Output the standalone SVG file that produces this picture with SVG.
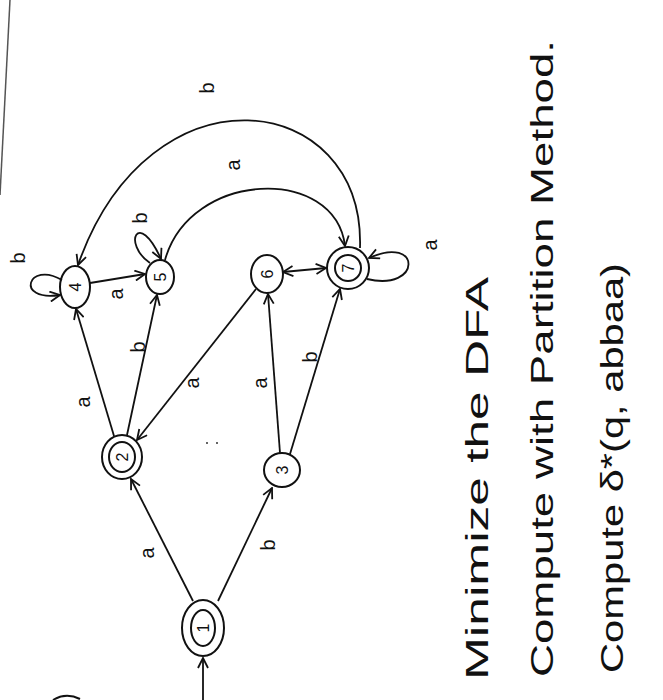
<svg xmlns="http://www.w3.org/2000/svg" width="663" height="700" viewBox="0 0 663 700">
<style>
.bg{fill:#ffffff}
.node{fill:none;stroke:#111;stroke-width:2}
.edge{fill:none;stroke:#111;stroke-width:1.8}
.lbl{font-family:"Liberation Sans",Arial,sans-serif;font-size:20px;fill:#111;text-anchor:middle;dominant-baseline:central}
.nl{font-family:"Liberation Sans",Arial,sans-serif;font-size:16px;fill:#111;text-anchor:middle;dominant-baseline:central}
.txt{font-family:"Liberation Sans",Arial,sans-serif;font-size:32px;fill:#111}
</style>
<defs>
<marker id="arr" viewBox="0 0 12 12" refX="11" refY="6" markerWidth="12" markerHeight="12" markerUnits="userSpaceOnUse" orient="auto-start-reverse">
<path d="M1,1 L11,6 L1,11" fill="none" stroke="#111" stroke-width="1.8"/>
</marker>
</defs>
<rect class="bg" x="0" y="0" width="663" height="700"/>
<line x1="10" y1="0" x2="0" y2="195" stroke="#555" stroke-width="1.5"/>
<path d="M53,700 Q66,692 80,699" fill="none" stroke="#111" stroke-width="2"/>
<circle cx="207" cy="443" r="1" fill="#333"/>
<circle cx="217" cy="443" r="1" fill="#333"/>

<g id="connectors">
<path class="edge" d="M203,700 L203,658" marker-end="url(#arr)"/>
<path class="edge" d="M193,601 L131,479" marker-end="url(#arr)"/>
<path class="edge" d="M218,601 L272,488" marker-end="url(#arr)"/>
<path class="edge" d="M114,436 L76,309" marker-end="url(#arr)"/>
<path class="edge" d="M127,435 L157,295" marker-end="url(#arr)"/>
<path class="edge" d="M256,289 L137,440" marker-end="url(#arr)"/>
<path class="edge" d="M280,453 L268,294" marker-end="url(#arr)"/>
<path class="edge" d="M290,454 L340,289" marker-end="url(#arr)"/>
<path class="edge" d="M90,283 L145,274" marker-end="url(#arr)"/>
<path class="edge" d="M283,272 L326,268" marker-start="url(#arr)" marker-end="url(#arr)"/>
<path class="edge" d="M360,248 C365,90 150,60 78,265" marker-end="url(#arr)"/>
<path class="edge" d="M165,260 C190,170 335,165 345,246" marker-end="url(#arr)"/>
<path class="edge" d="M62,280 C28,260 14,302 60,295" marker-end="url(#arr)"/>
<path class="edge" d="M150,263 C122,244 138,208 161,259" marker-end="url(#arr)"/>
<path class="edge" d="M367,279 C422,292 422,234 369,258" marker-end="url(#arr)"/>
<text class="lbl" transform="translate(207,88) rotate(-90)">b</text>
<text class="lbl" transform="translate(233,165) rotate(-90)">a</text>
<text class="lbl" transform="translate(140,218) rotate(-90)">b</text>
<text class="lbl" transform="translate(18,258) rotate(-90)">b</text>
<text class="lbl" transform="translate(430,245) rotate(-90)">a</text>
<text class="lbl" transform="translate(116,294) rotate(-90)">a</text>
<text class="lbl" transform="translate(138,347) rotate(-90)">b</text>
<text class="lbl" transform="translate(83,402) rotate(-90)">a</text>
<text class="lbl" transform="translate(192,383) rotate(-90)">a</text>
<text class="lbl" transform="translate(260,383) rotate(-90)">a</text>
<text class="lbl" transform="translate(310,357) rotate(-90)">b</text>
<text class="lbl" transform="translate(147,553) rotate(-90)">a</text>
<text class="lbl" transform="translate(268,545) rotate(-90)">b</text>
</g>

<g id="node1">
<ellipse class="node" cx="203" cy="628" rx="21" ry="28"/>
<ellipse class="node" cx="203" cy="628" rx="12" ry="18"/>
<text class="nl" transform="translate(203,628) rotate(-90)">1</text>
</g>
<g id="node2">
<ellipse class="node" cx="122" cy="457" rx="20" ry="22"/>
<ellipse class="node" cx="122" cy="457" rx="13" ry="15"/>
<text class="nl" transform="translate(122,457) rotate(-90)">2</text>
</g>
<g id="node3">
<ellipse class="node" cx="282" cy="470" rx="18" ry="17"/>
<text class="nl" transform="translate(282,470) rotate(-90)">3</text>
</g>
<g id="node4">
<ellipse class="node" cx="75" cy="287" rx="15" ry="21"/>
<text class="nl" transform="translate(75,287) rotate(-90)">4</text>
</g>
<g id="node5">
<ellipse class="node" cx="160" cy="277" rx="14" ry="17"/>
<text class="nl" transform="translate(160,277) rotate(-90)">5</text>
</g>
<g id="node6">
<ellipse class="node" cx="267" cy="274" rx="16" ry="19"/>
<text class="nl" transform="translate(267,274) rotate(-90)">6</text>
</g>
<g id="node7">
<circle class="node" cx="348" cy="268" r="21"/>
<circle class="node" cx="348" cy="268" r="13"/>
<text class="nl" transform="translate(348,268) rotate(-90)">7</text>
</g>

<g id="task">
<text class="txt" transform="translate(488,680) rotate(-90)" textLength="403" lengthAdjust="spacingAndGlyphs">Minimize the DFA</text>
<text class="txt" transform="translate(553,677) rotate(-90)" textLength="637" lengthAdjust="spacingAndGlyphs">Compute with Partition Method.</text>
<text class="txt" transform="translate(623,673) rotate(-90)" textLength="410" lengthAdjust="spacingAndGlyphs">Compute δ*(q, abbaa)</text>
</g>
</svg>
